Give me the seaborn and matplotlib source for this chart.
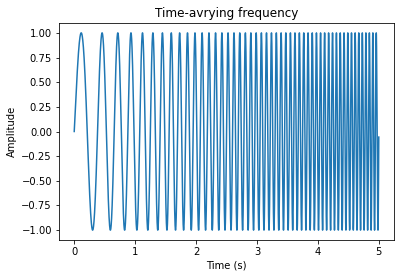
import numpy as np
import pandas as pd
import matplotlib
matplotlib.use("Agg")
import matplotlib.pyplot as plt
import seaborn as sns

# chirp parameters
start_freq = 2.0      # Hz at t=0
sweep_rate = 1.6      # phase term k*t^2
t_end = 5.0
step = 0.0005

t = np.arange(0, t_end, step)
amplitude = np.sin(2 * np.pi * (start_freq + sweep_rate * t) * t)
df = pd.DataFrame({"time": t, "amplitude": amplitude})

fig = plt.figure(figsize=(404 / 72, 278 / 72), dpi=72)
ax = fig.add_subplot(111)
fig.subplots_adjust(left=59 / 404, right=394 / 404, top=1 - 23 / 278, bottom=1 - 240 / 278)

sns.lineplot(data=df, x="time", y="amplitude", ax=ax, color="#1f77b4",
             linewidth=1.5, estimator=None, sort=False)
ax.set_title("Time-avrying frequency")
ax.set_xlabel("Time (s)")
ax.set_ylabel("Amplitude")

fig.savefig("out.png", dpi=72, facecolor="white")
